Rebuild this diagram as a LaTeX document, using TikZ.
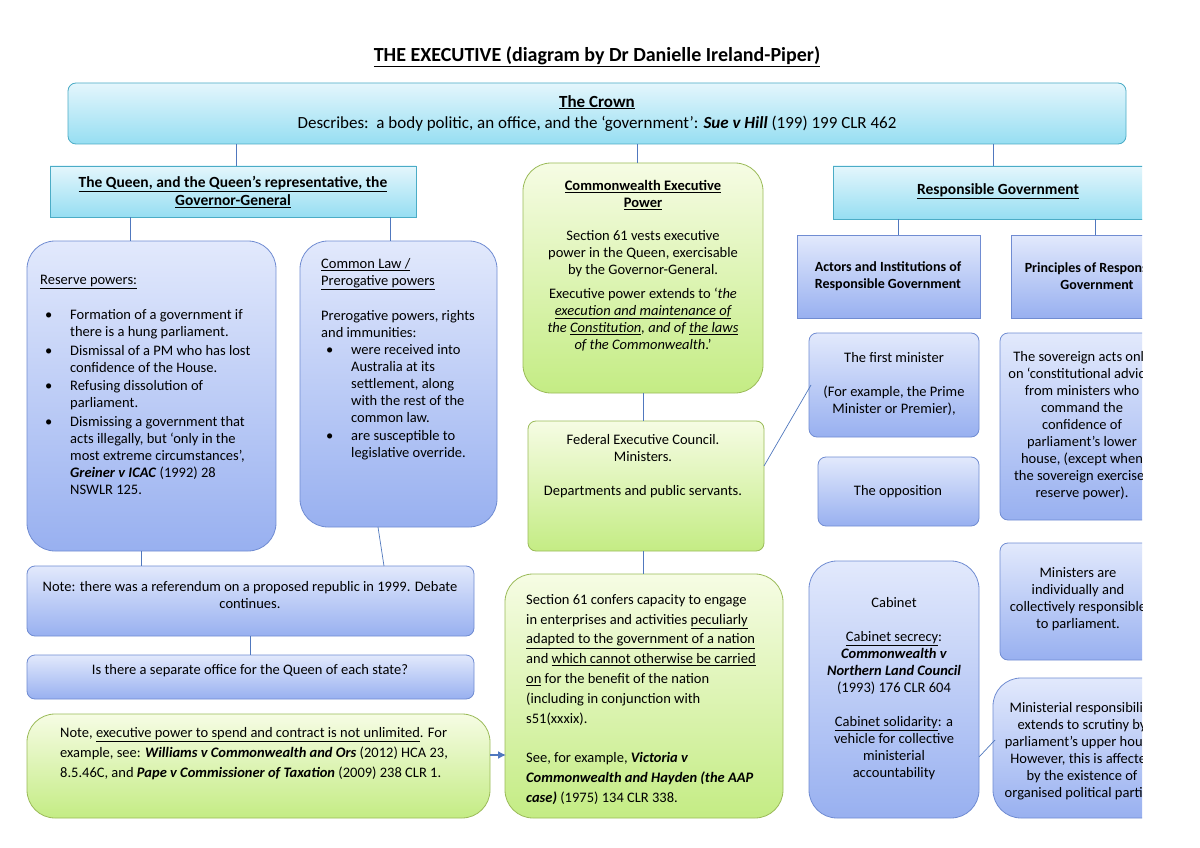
\documentclass[tikz,border=0pt]{standalone}
\usepackage{fontspec}
\usetikzlibrary{arrows.meta}
\setmainfont{Carlito}
\definecolor{bTop}{RGB}{226,233,252}
\definecolor{bBot}{RGB}{152,176,240}
\definecolor{bBrd}{RGB}{112,140,210}
\definecolor{cTop}{RGB}{228,246,252}
\definecolor{cBot}{RGB}{150,222,242}
\definecolor{cBrd}{RGB}{75,172,198}
\definecolor{gTop}{RGB}{246,252,228}
\definecolor{gBot}{RGB}{196,236,132}
\definecolor{gBrd}{RGB}{155,187,89}
\definecolor{lnC}{RGB}{80,120,190}
\newcommand{\bitem}[1]{\par\hangindent=30pt\hangafter=1\noindent\makebox[30pt][l]{\hspace{5pt}•}#1\par\vspace{1.5pt}}
\begin{document}
\begin{tikzpicture}[x=1pt,y=-1pt,
 base/.style={draw, line width=0.8pt},
 bluebox/.style={base, draw=bBrd, top color=bTop, bottom color=bBot},
 cyanbox/.style={base, draw=cBrd, top color=cTop, bottom color=cBot},
 greenbox/.style={base, draw=gBrd, top color=gTop, bottom color=gBot},
 conn/.style={draw=lnC, line width=0.7pt},
 txt/.style={inner sep=0pt, font=\fontsize{14.5}{17}\selectfont},
 rc/.style={rounded corners=8pt},
 rcl/.style={rounded corners=28pt}]
\useasboundingbox (0,0) rectangle (1200,848);
\fill[white] (0,0) rectangle (1200,848);
\begin{scope}
\clip (0,0) rectangle (1142,848);
\node[txt, font=\fontsize{20}{24}\selectfont\bfseries] (title) at (597,57) {\underline{THE EXECUTIVE (diagram by Dr Danielle Ireland-Piper)}};
\draw[cyanbox, rc] (68,83) rectangle (1126,144);
\node[txt, align=center, font=\fontsize{17}{21}\selectfont] (crown) at (597,113) {\textbf{\underline{The Crown}}\\Describes:\ \ a body politic, an office, and the ‘government’: \textbf{\textit{Sue v Hill}} (199) 199 CLR 462};
\draw[cyanbox] (50,166) rectangle (416,217);
\node[txt, align=center, font=\fontsize{15.5}{18}\selectfont\bfseries] (queen) at (233,192) {\underline{The Queen, and the Queen’s representative, the}\\\underline{Governor-General}};
\draw[cyanbox] (833,166) rectangle (1160,219);
\node[txt, font=\fontsize{15.5}{19}\selectfont\bfseries] (resp) at (998,191) {\underline{Responsible Government}};
\draw[greenbox, rcl] (523,163) rectangle (763,393);
\node[txt, align=center, anchor=north] (cep) at (643,180) {\textbf{\underline{Commonwealth Executive}}\\\textbf{\underline{Power}}\\[16pt]Section 61 vests executive\\power in the Queen, exercisable\\by the Governor-General.\\[7pt]Executive power extends to ‘\textit{the}\\\textit{\underline{execution and maintenance of}}\\\textit{the \underline{Constitution}, and of \underline{the laws}}\\\textit{of the Commonwealth}.’};
\draw[bluebox, rcl] (27,241) rectangle (276,551);
\node[txt, anchor=north west] (reserve) at (40,275) {\begin{minipage}[t]{230pt}\parindent=0pt
\underline{Reserve powers:}\par\vspace{18pt}
\bitem{Formation of a government if\\there is a hung parliament.}
\bitem{Dismissal of a PM who has lost\\confidence of the House.}
\bitem{Refusing dissolution of\\parliament.}
\bitem{Dismissing a government that\\acts illegally, but ‘only in the\\most extreme circumstances’,\\\textbf{\textit{Greiner v ICAC}} (1992) 28\\NSWLR 125.}
\end{minipage}};
\draw[bluebox, rcl] (300,241) rectangle (497,527);
\node[txt, anchor=north west] (common) at (321,258) {\begin{minipage}[t]{175pt}\parindent=0pt
\underline{Common Law /}\\\underline{Prerogative powers}\par\vspace{18pt}
Prerogative powers, rights\\and immunities:\par
\bitem{were received into\\Australia at its\\settlement, along\\with the rest of the\\common law.}
\bitem{are susceptible to\\legislative override.}
\end{minipage}};
\draw[bluebox, rc] (27,566) rectangle (474,636);
\node[txt, align=center] (note1) at (250,595) {Note: there was a referendum on a proposed republic in 1999. Debate\\continues.};
\draw[bluebox, rc] (27,655) rectangle (474,699);
\node[txt] (sep) at (250,671) {Is there a separate office for the Queen of each state?};
\draw[greenbox, rcl] (27,714) rectangle (490,818);
\node[txt, anchor=north west, align=left, font=\fontsize{14.5}{20}\selectfont] (note2) at (60,727) {Note, \underline{executive power to spend and contract is not unlimited}. For\\example, see: \textbf{\textit{Williams v Commonwealth and Ors}} (2012) HCA 23,\\8.5.46C, and \textbf{\textit{Pape v Commissioner of Taxation}} (2009) 238 CLR 1.};
\draw[greenbox, rc] (528,421) rectangle (764,551);
\node[txt, align=center, anchor=north] (fec) at (643,434) {Federal Executive Council.\\Ministers.\\[17pt]Departments and public servants.};
\draw[greenbox, rcl] (505,574) rectangle (783,818);
\node[txt, anchor=north west, align=left, font=\fontsize{14.5}{19.8}\selectfont] (s61) at (526,594) {Section 61 confers capacity to engage\\in enterprises and activities \underline{peculiarly}\\\underline{adapted to the government of a nation}\\and \underline{which cannot otherwise be carried}\\\underline{on} for the benefit of the nation\\(including in conjunction with\\s51(xxxix).\\[19.8pt]See, for example, \textbf{\textit{Victoria v}}\\\textbf{\textit{Commonwealth and Hayden (the AAP}}\\\textbf{\textit{case)}} (1975) 134 CLR 338.};
\draw[bluebox] (797,235) rectangle (980,318);
\node[txt, align=center, font=\fontsize{14}{17}\selectfont\bfseries] (actors) at (888,276) {Actors and Institutions of\\Responsible Government};
\draw[bluebox] (1011,235) rectangle (1180,318);
\node[txt, align=center, font=\fontsize{14}{17}\selectfont\bfseries] (princ) at (1097,276) {Principles of Responsible\\Government};
\draw[bluebox, rc] (809,333) rectangle (979,437);
\node[txt, align=center, anchor=north] (first) at (894,352) {The first minister\\[17pt](For example, the Prime\\Minister or Premier),};
\draw[bluebox, rc] (818,457) rectangle (979,526);
\node[txt] (opp) at (898,492) {The opposition};
\draw[bluebox, rcl] (809,561) rectangle (979,818);
\node[txt, align=center, anchor=north] (cab) at (894,597) {Cabinet\\[17pt]\underline{Cabinet secrecy}:\\\textbf{\textit{Commonwealth v}}\\\textbf{\textit{Northern Land Council}}\\(1993) 176 CLR 604\\[17pt]\underline{Cabinet solidarity}: a\\vehicle for collective\\ministerial\\accountability};
\draw[bluebox, rc] (1000,333) rectangle (1180,520);
\node[txt, align=center, anchor=north] (sov) at (1082,351) {The sovereign acts only\\on ‘constitutional advice’\\from ministers who\\command the\\confidence of\\parliament’s lower\\house, (except when\\the sovereign exercises\\reserve power).};
\draw[bluebox, rc] (1000,543) rectangle (1180,660);
\node[txt, align=center, anchor=north] (mins) at (1078,567) {Ministers are\\individually and\\collectively responsible\\to parliament.};
\draw[bluebox, rcl] (993,678) rectangle (1180,818);
\node[txt, align=center, anchor=north] (mr) at (1082,702) {Ministerial responsibility\\extends to scrutiny by\\parliament’s upper house.\\However, this is affected\\by the existence of\\organised political parties.};
\draw[conn] (236,144) -- (236,166);
\draw[conn] (637,144) -- (637,163);
\draw[conn] (993,144) -- (993,166);
\draw[conn] (130,217) -- (130,241);
\draw[conn] (390,217) -- (390,241);
\draw[conn] (141,551) -- (141,566);
\draw[conn] (378,527) -- (384,566);
\draw[conn] (250,636) -- (250,655);
\draw[conn] (643,393) -- (643,421);
\draw[conn] (643,551) -- (643,574);
\draw[conn] (898,219) -- (898,235);
\draw[conn] (1095,219) -- (1095,235);
\draw[conn] (764,466) -- (811,385);
\draw[conn] (979,757) -- (995,740);
\draw[conn, draw=lnC, line width=1.4pt, -{Latex[length=8pt,width=8pt]}] (490,755) -- (506,755);
\end{scope}
\end{tikzpicture}
\end{document}
